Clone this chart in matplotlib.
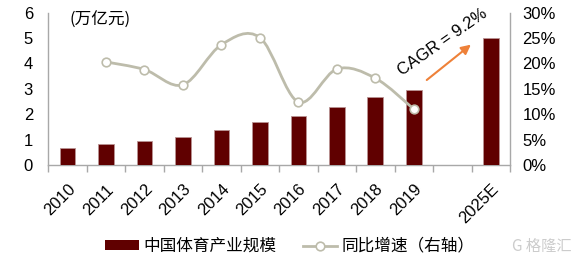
import matplotlib
matplotlib.use("Agg")
import matplotlib.pyplot as plt
from matplotlib.path import Path
from matplotlib.patches import PathPatch
from matplotlib.lines import Line2D
from matplotlib.patches import Patch
import numpy as np

plt.rcParams['font.family'] = ['Liberation Sans', 'Noto Sans CJK SC', 'DejaVu Sans']

# ---- data ----
categories = ["2010", "2011", "2012", "2013", "2014", "2015", "2016", "2017", "2018", "2019", "", "2025E"]
scale_years = ["2010", "2011", "2012", "2013", "2014", "2015", "2016", "2017", "2018", "2019", "2025E"]
scale_values = [0.68, 0.81, 0.96, 1.11, 1.36, 1.70, 1.93, 2.27, 2.66, 2.95, 5.01]   # 万亿元
growth_years = ["2011", "2012", "2013", "2014", "2015", "2016", "2017", "2018", "2019"]
growth_values = [20.3, 18.8, 15.8, 23.7, 25.1, 12.4, 18.9, 17.1, 11.0]             # %
left_ticks = [0, 1, 2, 3, 4, 5, 6]
right_ticks = [0, 5, 10, 15, 20, 25, 30]

bar_color = "#600000"
line_color = "#BDBCAB"
spine_color = "#A8A8A8"
orange = "#EE8139"

fig = plt.figure(figsize=(5.8, 2.61), dpi=100)
ax = fig.add_axes([48.3 / 580, 1 - 165 / 261, (510 - 48.3) / 580, (165 - 12.7) / 261])
ax2 = ax.twinx()

pos = {c: i for i, c in enumerate(categories) if c}
xb = [pos[y] for y in scale_years]
ax.bar(xb, scale_values, width=0.41, color=bar_color, edgecolor="#B99393", linewidth=0.6, zorder=3)

# smoothed growth line (Catmull-Rom style bezier, rendered by matplotlib path)
gx = np.array([pos[y] for y in growth_years], dtype=float)
gy = np.array(growth_values, dtype=float)
pts = np.column_stack([gx, gy])
verts = [tuple(pts[0])]
codes = [Path.MOVETO]
n = len(pts)
for i in range(n - 1):
    p0 = pts[i - 1] if i > 0 else pts[i]
    p1 = pts[i]
    p2 = pts[i + 1]
    p3 = pts[i + 2] if i + 2 < n else pts[i + 1]
    c1 = p1 + (p2 - p0) / 6.0
    c2 = p2 - (p3 - p1) / 6.0
    verts += [tuple(c1), tuple(c2), tuple(p2)]
    codes += [Path.CURVE4] * 3
ax2.add_patch(PathPatch(Path(verts, codes), facecolor="none", edgecolor=line_color, lw=2.0, zorder=3))
ax2.plot(gx, gy, linestyle="none", marker="o", ms=6.2, mfc="white", mec=line_color, mew=1.2, zorder=4)

ax.set_xlim(-0.5, len(categories) - 0.5)
ax.set_ylim(0, 6)
ax2.set_ylim(0, 30)
ax.set_yticks(left_ticks)
ax.set_yticklabels([str(v) for v in left_ticks])
ax2.set_yticks(right_ticks)
ax2.set_yticklabels([f"{v}%" for v in right_ticks])

ax.set_xticks(range(len(categories)))
ax.set_xticklabels(categories, rotation=45, ha="right", va="top", rotation_mode="anchor")
ax.set_xticks(np.arange(-0.5, len(categories)), minor=True)
ax.tick_params(axis="x", which="major", length=0, pad=12, labelsize=12)
ax.tick_params(axis="x", which="minor", length=5, width=1, color=spine_color, direction="out")
ax.tick_params(axis="y", length=0, pad=11, labelsize=12)
ax2.tick_params(axis="y", length=0, pad=9, labelsize=12)

for a in (ax, ax2):
    a.spines["top"].set_visible(False)
    for s in ("left", "right", "bottom"):
        a.spines[s].set_color(spine_color)
        a.spines[s].set_linewidth(1.0)
ax.spines["right"].set_visible(False)
ax2.spines["left"].set_visible(False)
ax2.spines["bottom"].set_visible(False)

ax.set_zorder(1)
ax2.set_zorder(2)
ax.patch.set_visible(True)
ax2.patch.set_visible(False)

ax.text(0.112, 0.952, "(万亿元)", transform=ax.transAxes, ha="center", va="center", fontsize=12,
        family=["Noto Sans CJK SC", "DejaVu Sans"])

# CAGR annotation
ax.annotate("", xy=(10.54, 4.81), xytext=(9.28, 3.28),
            arrowprops=dict(arrowstyle="-|>", color=orange, lw=1.5, mutation_scale=14), zorder=5)
ax.text(9.75, 4.84, "CAGR = 9.2%", rotation=35, ha="center", va="center", fontsize=12, zorder=5)

handles = [Patch(facecolor=bar_color, edgecolor="none"),
           Line2D([], [], color=line_color, lw=2.0, marker="o", ms=6.2, mfc="white", mec=line_color, mew=1.2)]
labels = ["中国体育产业规模", "同比增速（右轴）"]
fig.legend(handles, labels, loc="center", bbox_to_anchor=(0.5, 0.056), ncol=2, frameon=False,
           prop={"family": ["Noto Sans CJK SC", "DejaVu Sans"], "size": 12},
           handlelength=2.0, handleheight=0.5, handletextpad=0.3, columnspacing=1.6)

fig.text(0.935, 0.056, "G 格隆汇", ha="center", va="center", fontsize=11, color="#CCCCCC",
         family=["Noto Sans CJK SC", "DejaVu Sans"])

fig.savefig("out.png", dpi=100)
